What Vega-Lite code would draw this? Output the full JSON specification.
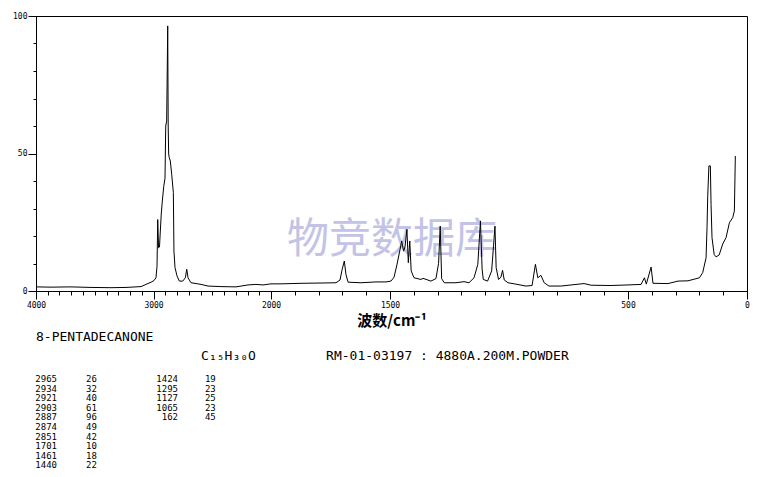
{
  "$schema": "https://vega.github.io/schema/vega-lite/v6.json",
  "autosize": {"type": "pad"},
  "padding": {"left": 12, "top": 11, "right": 0, "bottom": 0},
  "background": "white",
  "bounds": "flush",
  "spacing": 40,
  "config": {
    "view": {"stroke": "black", "strokeWidth": 1},
    "axis": {"domainColor": "black", "tickColor": "black", "labelColor": "black", "titleColor": "black", "grid": false, "labelFont": "DejaVu Sans Mono", "labelFontSize": 8, "tickWidth": 1, "domainWidth": 1}
  },
  "vconcat": [
    {
      "width": 711,
      "height": 275,
      "resolve": {"axis": {"x": "independent", "y": "independent"}},
      "layer": [
        {
          "data": {"values": [{"mark": "watermark"}]},
          "mark": {"type": "text", "font": "Noto Sans CJK SC", "fontSize": 42, "color": "#c3c3e6", "align": "center", "baseline": "middle"},
          "encoding": {
            "x": {"datum": 1492, "type": "quantitative", "scale": {"domain": [4000, 2000, 0], "range": [0, 235, 711], "nice": false, "zero": false}, "axis": null},
            "y": {"datum": 18.5, "type": "quantitative", "scale": {"domain": [0, 100], "nice": false, "zero": false}, "axis": null},
            "text": {"value": "物竞数据库"}
          }
        },
        {
          "data": {"name": "spectrum"},
          "mark": {"type": "line", "color": "black", "strokeWidth": 1, "interpolate": "linear"},
          "encoding": {
            "x": {"field": "wn", "type": "quantitative", "scale": {"domain": [4000, 2000, 0], "range": [0, 235, 711], "nice": false, "zero": false},
              "axis": {"orient": "bottom", "values": [4000, 3000, 2000, 1500, 500, 0], "format": "d", "tickSize": 8, "labelPadding": 2, "labelFlush": false, "labelOverlap": false, "labelBound": false,
                "title": "波数/cm⁻¹", "titleFont": "Noto Sans CJK SC", "titleFontSize": 15, "titleFontWeight": "bold", "titlePadding": 4}},
            "y": {"field": "i", "type": "quantitative", "scale": {"domain": [0, 100], "nice": false, "zero": false},
              "axis": {"orient": "left", "values": [0, 50, 100], "format": "d", "tickSize": 8, "labelPadding": 1, "labelFlush": false, "labelOverlap": false, "title": null}}
          }
        },
        {
          "data": {"name": "spectrum"},
          "mark": {"type": "line", "color": "black", "strokeWidth": 1, "strokeOpacity": 0},
          "encoding": {
            "x": {"field": "wn", "type": "quantitative",
              "axis": {"orient": "bottom", "values": [0,100,200,300,400,500,600,700,800,900,1000,1100,1200,1300,1400,1500,1600,1700,1800,1900,2000,2100,2200,2300,2400,2500,2600,2700,2800,2900,3000,3100,3200,3300,3400,3500,3600,3700,3800,3900,4000], "tickSize": 4, "labels": false, "domain": false, "title": null}},
            "y": {"field": "i", "type": "quantitative",
              "axis": {"orient": "left", "values": [0,10,20,30,40,50,60,70,80,90,100], "tickSize": 3, "labels": false, "domain": false, "title": null}}
          }
        }
      ]
    },
    {
      "width": 711,
      "height": 144,
      "view": {"stroke": null},
      "layer": [
        {
          "data": {"name": "peaks"},
          "transform": [{"filter": "datum.group == 1"}],
          "mark": {"type": "text", "font": "DejaVu Sans Mono", "fontSize": 9, "align": "right", "baseline": "middle", "color": "black"},
          "encoding": {
            "x": {"datum": 2.57, "type": "quantitative", "scale": {"domain": [0, 87], "nice": false, "zero": false}, "axis": null},
            "y": {"field": "row", "type": "quantitative", "scale": {"domain": [-4, 11], "reverse": true, "nice": false, "zero": false}, "axis": null},
            "text": {"field": "wn"}
          }
        },
        {
          "data": {"name": "peaks"},
          "transform": [{"filter": "datum.group == 1"}],
          "mark": {"type": "text", "font": "DejaVu Sans Mono", "fontSize": 9, "align": "right", "baseline": "middle", "color": "black"},
          "encoding": {
            "x": {"datum": 7.46, "type": "quantitative"},
            "y": {"field": "row", "type": "quantitative"},
            "text": {"field": "int"}
          }
        },
        {
          "data": {"name": "peaks"},
          "transform": [{"filter": "datum.group == 2"}],
          "mark": {"type": "text", "font": "DejaVu Sans Mono", "fontSize": 9, "align": "right", "baseline": "middle", "color": "black"},
          "encoding": {
            "x": {"datum": 17.38, "type": "quantitative"},
            "y": {"field": "row", "type": "quantitative"},
            "text": {"field": "wn"}
          }
        },
        {
          "data": {"name": "peaks"},
          "transform": [{"filter": "datum.group == 2"}],
          "mark": {"type": "text", "font": "DejaVu Sans Mono", "fontSize": 9, "align": "right", "baseline": "middle", "color": "black"},
          "encoding": {
            "x": {"datum": 22.0, "type": "quantitative"},
            "y": {"field": "row", "type": "quantitative"},
            "text": {"field": "int"}
          }
        },
        {
          "data": {"values": [{"label": "8-PENTADECANONE"}]},
          "mark": {"type": "text", "font": "DejaVu Sans Mono", "fontSize": 13, "align": "left", "baseline": "middle", "color": "black"},
          "encoding": {
            "x": {"datum": 0, "type": "quantitative"},
            "y": {"datum": -3.4, "type": "quantitative"},
            "text": {"field": "label"}
          }
        },
        {
          "data": {"values": [{"label": "C₁₅H₃₀O"}]},
          "mark": {"type": "text", "font": "DejaVu Sans Mono", "fontSize": 13, "align": "left", "baseline": "middle", "color": "black"},
          "encoding": {
            "x": {"datum": 20.2, "type": "quantitative"},
            "y": {"datum": -1.4, "type": "quantitative"},
            "text": {"field": "label"}
          }
        },
        {
          "data": {"values": [{"label": "RM-01-03197 : 4880A.200M.POWDER"}]},
          "mark": {"type": "text", "font": "DejaVu Sans Mono", "fontSize": 13, "align": "left", "baseline": "middle", "color": "black"},
          "encoding": {
            "x": {"datum": 35.5, "type": "quantitative"},
            "y": {"datum": -1.4, "type": "quantitative"},
            "text": {"field": "label"}
          }
        }
      ]
    }
  ],
  "datasets": {
    "spectrum": [
      {"wn":4000,"i":1.5},{"wn":3872,"i":1.4},{"wn":3702,"i":1.5},{"wn":3532,"i":1.3},{"wn":3362,"i":1.2},{"wn":3234,"i":1.3},{"wn":3106,"i":1.6},{"wn":3064,"i":2.4},{"wn":3021,"i":3.2},{"wn":2996,"i":3.8},{"wn":2979,"i":4.8},{"wn":2970,"i":9},{"wn":2964,"i":26},{"wn":2957,"i":15.7},{"wn":2949,"i":16},{"wn":2942,"i":21.8},{"wn":2934,"i":28},{"wn":2925,"i":32.7},{"wn":2913,"i":38},{"wn":2902,"i":41},{"wn":2896,"i":60},{"wn":2888,"i":61.8},{"wn":2883,"i":80},{"wn":2879,"i":96.4},{"wn":2875,"i":60},{"wn":2871,"i":49.8},{"wn":2866,"i":48.5},{"wn":2857,"i":47.3},{"wn":2845,"i":42.4},{"wn":2831,"i":35.8},{"wn":2826,"i":14.5},{"wn":2817,"i":8.5},{"wn":2800,"i":5.5},{"wn":2780,"i":3.6},{"wn":2751,"i":3.6},{"wn":2729,"i":4.8},{"wn":2717,"i":7.9},{"wn":2706,"i":4.8},{"wn":2681,"i":3.0},{"wn":2638,"i":2.7},{"wn":2596,"i":2.4},{"wn":2536,"i":1.8},{"wn":2426,"i":1.6},{"wn":2298,"i":1.5},{"wn":2196,"i":2.2},{"wn":2128,"i":2.4},{"wn":2068,"i":2.2},{"wn":2000,"i":2.6},
      {"wn":1958,"i":2.6},{"wn":1874,"i":2.8},{"wn":1790,"i":2.9},{"wn":1727,"i":3.0},{"wn":1710,"i":4.0},{"wn":1702,"i":7.5},{"wn":1692,"i":10.9},{"wn":1685,"i":6},{"wn":1676,"i":3.2},{"wn":1622,"i":3.0},{"wn":1559,"i":3.3},{"wn":1517,"i":3.3},{"wn":1496,"i":3.6},{"wn":1483,"i":5.0},{"wn":1471,"i":9.5},{"wn":1458,"i":15},{"wn":1451,"i":18.2},{"wn":1443,"i":14.5},{"wn":1437,"i":16},{"wn":1429,"i":22.4},{"wn":1423,"i":10.3},{"wn":1417,"i":18.2},{"wn":1411,"i":7.3},{"wn":1399,"i":4.8},{"wn":1370,"i":4.2},{"wn":1361,"i":4.6},{"wn":1328,"i":3.6},{"wn":1307,"i":4.5},{"wn":1296,"i":10},{"wn":1289,"i":23.6},{"wn":1283,"i":4.5},{"wn":1272,"i":3.0},{"wn":1223,"i":3.0},{"wn":1189,"i":3.4},{"wn":1168,"i":3.0},{"wn":1147,"i":4.8},{"wn":1131,"i":9.7},{"wn":1120,"i":25.5},{"wn":1113,"i":8},{"wn":1108,"i":4.2},{"wn":1090,"i":3.6},{"wn":1073,"i":7.3},{"wn":1065,"i":16.4},{"wn":1059,"i":23.6},{"wn":1054,"i":8.5},{"wn":1044,"i":4.2},{"wn":1034,"i":5.0},{"wn":1027,"i":7.5},{"wn":1020,"i":4.0},{"wn":1004,"i":3.0},{"wn":971,"i":2.5},{"wn":929,"i":1.8},{"wn":903,"i":2.0},{"wn":889,"i":9.7},{"wn":879,"i":4.8},{"wn":866,"i":5.7},{"wn":852,"i":3.0},{"wn":832,"i":1.8},{"wn":782,"i":1.8},{"wn":685,"i":2.7},{"wn":655,"i":2.1},{"wn":571,"i":2.0},{"wn":500,"i":2.2},{"wn":445,"i":2.4},{"wn":431,"i":4.8},{"wn":423,"i":2.5},{"wn":403,"i":8.7},{"wn":395,"i":2.8},{"wn":332,"i":2.7},{"wn":290,"i":3.6},{"wn":248,"i":3.7},{"wn":200,"i":4.8},{"wn":186,"i":6.7},{"wn":172,"i":12.1},{"wn":168,"i":23},{"wn":165,"i":34.5},{"wn":160,"i":45.5},{"wn":154,"i":45.5},{"wn":151,"i":31.5},{"wn":147,"i":19.4},{"wn":138,"i":13.3},{"wn":130,"i":12.4},{"wn":117,"i":13.1},{"wn":102,"i":17.1},{"wn":88,"i":19.4},{"wn":74,"i":24.8},{"wn":60,"i":26.7},{"wn":53,"i":29.1},{"wn":49,"i":49.1}
    ],
    "peaks": [
      {"group":1,"row":1,"wn":"2965","int":"26"},
      {"group":1,"row":2,"wn":"2934","int":"32"},
      {"group":1,"row":3,"wn":"2921","int":"40"},
      {"group":1,"row":4,"wn":"2903","int":"61"},
      {"group":1,"row":5,"wn":"2887","int":"96"},
      {"group":1,"row":6,"wn":"2874","int":"49"},
      {"group":1,"row":7,"wn":"2851","int":"42"},
      {"group":1,"row":8,"wn":"1701","int":"10"},
      {"group":1,"row":9,"wn":"1461","int":"18"},
      {"group":1,"row":10,"wn":"1440","int":"22"},
      {"group":2,"row":1,"wn":"1424","int":"19"},
      {"group":2,"row":2,"wn":"1295","int":"23"},
      {"group":2,"row":3,"wn":"1127","int":"25"},
      {"group":2,"row":4,"wn":"1065","int":"23"},
      {"group":2,"row":5,"wn":"162","int":"45"}
    ]
  }
}
